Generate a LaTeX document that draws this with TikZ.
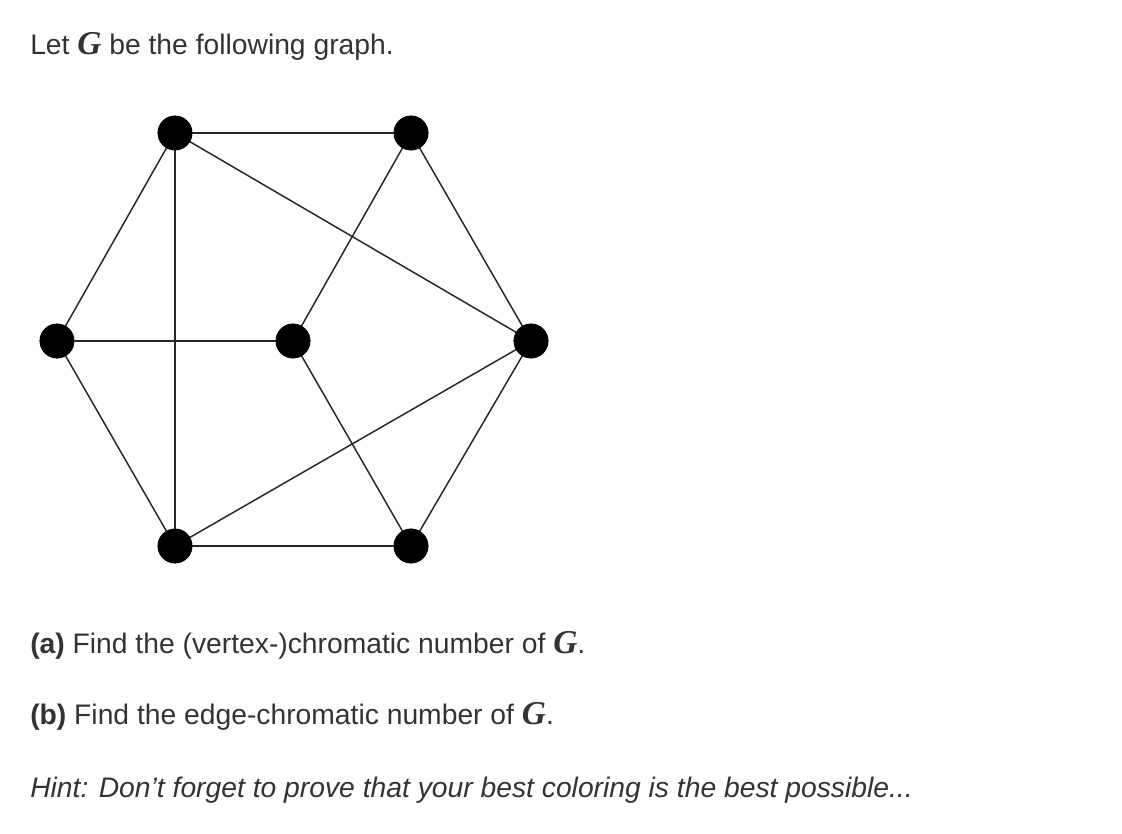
\documentclass[tikz,border=0pt]{standalone}
\usepackage{fontspec}
\setmainfont{Liberation Sans}
\newfontfamily\gfont{Liberation Serif}
\newcommand{\GG}{{\gfont\itshape\bfseries\fontsize{25}{28}\selectfont G}}
\definecolor{txt}{HTML}{333333}
\begin{document}
\begin{tikzpicture}[x=0.75pt,y=-0.75pt,
  vtx/.style={circle,fill=black,inner sep=0pt,minimum size=26pt},
  edge/.style={line width=1.1pt,draw=black!85},
  line/.style={anchor=base west,inner sep=0pt,text=txt,font=\fontsize{21.2}{24}\selectfont}]
\useasboundingbox (0,0) rectangle (1122,834);
\node[vtx] (tl) at (175,133) {};
\node[vtx] (tr) at (411,133) {};
\node[vtx] (l) at (57,341) {};
\node[vtx] (c) at (293,341) {};
\node[vtx] (r) at (531,341) {};
\node[vtx] (bl) at (175,546) {};
\node[vtx] (br) at (411,546) {};
\foreach \a/\b in {tl/tr,tl/l,tl/bl,tl/r,tr/c,tr/r,l/c,l/bl,c/br,r/br,r/bl,bl/br}
  \draw[edge] (\a.center) -- (\b.center);
\foreach \n in {tl,tr,l,c,r,bl,br} \node[vtx] at (\n) {};
\node[line] (t1) at (30,55) {Let \GG\ be the following graph.};
\node[line] (t2) at (30,653) {\textbf{(a)} Find the (vertex-)chromatic number of \GG.};
\node[line] (t3) at (30,724) {\textbf{(b)} Find the edge-chromatic number of \GG.};
\node[line] (t4) at (30,797) {\itshape Hint: Don’t forget to prove that your best coloring is the best possible...};
\end{tikzpicture}
\end{document}
